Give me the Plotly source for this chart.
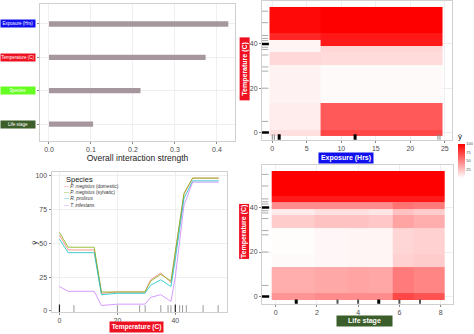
import plotly.graph_objects as go

# ---------------- data ----------------
# Panel A: overall interaction strength
bar_vars = ["Life stage", "Species", "Temperature (C)", "Exposure (Hrs)"]
bar_vals = [0.105, 0.218, 0.373, 0.427]
bar_label_colors = ["#3b5e2b", "#66ff22", "#ee1122", "#1010ee"]

# Panel B: Temperature x Exposure partial dependence
exp_edges = [-0.4, 7.0, 24.6]
tempB_edges = [-1.5, 1.2, 13.2, 30.6, 36.2, 39.2, 41.8, 44.9, 56.7]
zB = [
    [12, 72],
    [7, 65],
    [5, 2],
    [15, 14],
    [4, 16],
    [4, 90],
    [85, 91],
    [97, 100],
]
exp_rug_dark = [1, 12]
exp_rug_gray = [0, 0.3, 24, 24.3]

# Panel C: Temperature x Species
temp_x = [0, 3, 12, 14.5, 20, 29.5, 31.5, 35, 38.5, 40, 43, 46, 55]
species = ["<i>P. megistus</i> (domestic)", "<i>P. megistus</i> (sylvatic)",
           "<i>R. prolixus</i>", "<i>T. infestans</i>"]
sp_colors = ["#F8766D", "#7CAE00", "#00BFC4", "#C77CFF"]
yhat_dom = [56, 45, 45, 13, 14, 14, 23, 28, 21, 42, 86, 98, 98]
yhat_syl = [58, 47, 47, 14, 14, 14, 22, 27, 22, 44, 87, 98, 98]
yhat_pro = [53, 43, 43, 12, 13, 13, 19, 23, 18, 38, 83, 96, 96]
yhat_inf = [18, 14.5, 14.5, 4, 5, 5, 10, 12, 7, 25, 78, 95, 95]
temp_rug_dark = [0, 40]
temp_rug_gray = [5, 20, 27.7, 29.6, 35, 37.5, 38.5, 41.5, 42.5, 43.8, 49.6, 54.8]

# Panel D: Temperature x Life stage
ls_edges = [-0.19, 1.9, 3.5, 4.5, 5.7, 6.7, 8.19]
tempD_edges = [-1.5, 1.8, 13.3, 19, 30.8, 36.4, 39.4, 42.2, 45.1, 56.3]
zD = [
    [42, 45, 45, 45, 72, 68],
    [32, 34, 36, 35, 52, 48],
    [2, 3, 4, 4, 18, 20],
    [1, 3, 4, 4, 16, 18],
    [20, 24, 24, 22, 36, 32],
    [8, 12, 12, 10, 24, 20],
    [45, 45, 45, 45, 55, 52],
    [90, 90, 90, 90, 90, 90],
    [100, 100, 100, 100, 100, 100],
]
ls_rug_dark = [1, 5]
ls_rug_gray = [3, 4, 6, 7]

# ---------------- figure ----------------
W, H = 474, 334
FONT = "Liberation Sans"
TICKC = "#4d4d4d"
GRID = "#efefef"
BORDER = "#d0d0d0"

def px(x):
    return x / W

def py(y):
    return 1 - y / H

fig = go.Figure()

# A: bars
fig.add_trace(go.Bar(x=bar_vals, y=bar_vars, orientation="h", width=0.16,
                     marker=dict(color="#a6979f", line=dict(width=0)),
                     showlegend=False, xaxis="x", yaxis="y"))

# B: heatmap
fig.add_trace(go.Heatmap(x=exp_edges, y=tempB_edges, z=zB, coloraxis="coloraxis",
                         xaxis="x2", yaxis="y2"))
# D: heatmap
fig.add_trace(go.Heatmap(x=ls_edges, y=tempD_edges, z=zD, coloraxis="coloraxis",
                         xaxis="x4", yaxis="y4"))

# C: lines
for name, col, vals in zip(species, sp_colors, [yhat_dom, yhat_syl, yhat_pro, yhat_inf]):
    fig.add_trace(go.Scatter(x=temp_x, y=vals, mode="lines", name=name,
                             line=dict(color=col, width=1), opacity=0.75,
                             showlegend=False, xaxis="x3", yaxis="y3"))

def rug(xs, ys, xa, ya, sym, color, lw, size):
    fig.add_trace(go.Scatter(x=xs, y=ys, mode="markers", showlegend=False,
                             hoverinfo="skip", xaxis=xa, yaxis=ya,
                             marker=dict(symbol=sym, size=size, color=color,
                                         line=dict(color=color, width=lw))))

# rugs on line chart (x)
rug(temp_rug_gray, [1.2] * len(temp_rug_gray), "x3", "y3", "line-ns-open", "#9a9a9a", 1, 6)
rug(temp_rug_dark, [1.2] * len(temp_rug_dark), "x3", "y3", "line-ns-open", "#222222", 1.2, 7)
# rugs on heatmap B
rug(exp_rug_gray, [-2.4] * len(exp_rug_gray), "x2", "y2", "line-ns-open", "#888888", 1, 5)
rug(exp_rug_dark, [-2.4] * len(exp_rug_dark), "x2", "y2", "line-ns-open", "#000000", 3, 5)
rug([-1.2] * len(temp_rug_gray), temp_rug_gray, "x2", "y2", "line-ew-open", "#aaaaaa", 1, 6)
rug([-1.2] * len(temp_rug_dark), temp_rug_dark, "x2", "y2", "line-ew-open", "#000000", 2.5, 7)
# rugs on heatmap D
rug(ls_rug_gray, [-2.6] * len(ls_rug_gray), "x4", "y4", "line-ns-open", "#555555", 2, 4)
rug(ls_rug_dark, [-2.6] * len(ls_rug_dark), "x4", "y4", "line-ns-open", "#000000", 3, 4)
rug([-0.55] * len(temp_rug_gray), temp_rug_gray, "x4", "y4", "line-ew-open", "#aaaaaa", 1, 6)
rug([-0.55] * len(temp_rug_dark), temp_rug_dark, "x4", "y4", "line-ew-open", "#000000", 2.5, 7)

tickfont = dict(family=FONT, size=7, color=TICKC)
common = dict(showline=True, mirror=True, linecolor=BORDER, linewidth=1,
              ticks="outside", ticklen=2, tickcolor="#888888", tickfont=tickfont,
              gridcolor=GRID, zeroline=False, fixedrange=True)

fig.update_layout(
    width=W, height=H, margin=dict(l=0, r=0, t=0, b=0),
    paper_bgcolor="white", plot_bgcolor="white",
    font=dict(family=FONT, color="#222222"),
    xaxis=dict(domain=[px(40), px(235)], range=[-0.0214, 0.443],
               tickvals=[0, 0.1, 0.2, 0.3, 0.4], ticktext=["0.0", "0.1", "0.2", "0.3", "0.4"],
               title=dict(text="Overall interaction strength", font=dict(size=8.5, color="#222"), standoff=0),
               anchor="y", **common),
    yaxis=dict(domain=[py(141), py(3)], range=[-0.5, 3.6], showticklabels=False,
               anchor="x", **common),
    xaxis2=dict(domain=[px(262), px(452)], range=[-1.49, 26.04],
                tickvals=[0, 5, 10, 15, 20, 25], anchor="y2", **common),
    yaxis2=dict(domain=[py(140), 1.0], range=[-3.3, 59.4], tickvals=[0, 20, 40],
                anchor="x2", **common),
    xaxis3=dict(domain=[px(51.5), px(226.7)], range=[-2.75, 57.75], tickvals=[0, 20, 40],
                anchor="y3", **common),
    yaxis3=dict(domain=[py(313.7), py(172.3)], range=[-0.7, 102.7], tickvals=[0, 25, 50, 75, 100],
                anchor="x3", **common),
    xaxis4=dict(domain=[px(262), px(453)], range=[-0.66, 8.6], tickvals=[0, 2, 4, 6, 8],
                anchor="y4", **common),
    yaxis4=dict(domain=[py(305.5), py(165.7)], range=[-3.2, 58.9], tickvals=[0, 20, 40],
                anchor="x4", **common),
    coloraxis=dict(cmin=0, cmax=100,
                   colorscale=[[0, "#ffffff"], [1, "#ff0000"]],
                   colorbar=dict(x=px(458), xanchor="left", y=py(130), yanchor="top",
                                 len=48, lenmode="pixels", thickness=7,
                                 outlinewidth=0, ticks="", tickvals=[25, 50, 75, 100],
                                 ypad=0, xpad=0,
                                 tickfont=dict(family=FONT, size=4, color=TICKC),
                                 title=dict(text="ŷ", side="top",
                                            font=dict(family=FONT, size=8, color="#222")))),
)

ann = []
# bar chart category labels as coloured boxes
for var, col in zip(bar_vars, bar_label_colors):
    ann.append(dict(xref="paper", yref="y", x=px(18), y=var, text=var, showarrow=False,
                    font=dict(family=FONT, size=4.5, color="white"), bgcolor=col,
                    width=34, height=7, borderpad=0, xanchor="center", yanchor="middle"))

def boxlabel(text, xc, yc, col, angle=0, w=54, h=9, size=7):
    ann.append(dict(xref="paper", yref="paper", x=px(xc), y=py(yc), text="<b>" + text + "</b>",
                    showarrow=False, textangle=angle, bgcolor=col, width=w, height=h,
                    borderpad=0, font=dict(family=FONT, size=size, color="white"),
                    xanchor="center", yanchor="middle"))

boxlabel("Exposure (Hrs)", 346, 158, "#1010ee", w=54, h=10)
boxlabel("Temperature (C)", 244.5, 69, "#ee1122", angle=-90, w=62, h=9)
boxlabel("Temperature (C)", 244.5, 233, "#ee1122", angle=-90, w=54, h=9)
boxlabel("Life stage", 364.5, 323, "#3b5e2b", w=55, h=10)
boxlabel("Temperature (C)", 136.5, 328.5, "#ee1122", w=53, h=10, size=6.5)

ann.append(dict(xref="paper", yref="paper", x=px(35), y=py(244), text="ŷ", showarrow=False,
                textangle=-90, font=dict(family=FONT, size=8, color="#222"),
                xanchor="center", yanchor="middle"))

# legend for panel C (compact, ggplot-like)
ann.append(dict(xref="paper", yref="paper", x=px(64), y=py(173.5), text="Species",
                showarrow=False, xanchor="left", yanchor="top",
                font=dict(family=FONT, size=7.5, color="#222")))
leg_lines = "<br>".join(
    f"<span style='color:{c}'>—</span> {n}" for n, c in zip(species, sp_colors))
ann.append(dict(xref="paper", yref="paper", x=px(62), y=py(182.5), text=leg_lines,
                showarrow=False, xanchor="left", yanchor="top", align="left",
                font=dict(family=FONT, size=4.8, color="#333")))

fig.update_layout(annotations=ann)

fig.write_html("out.html")
